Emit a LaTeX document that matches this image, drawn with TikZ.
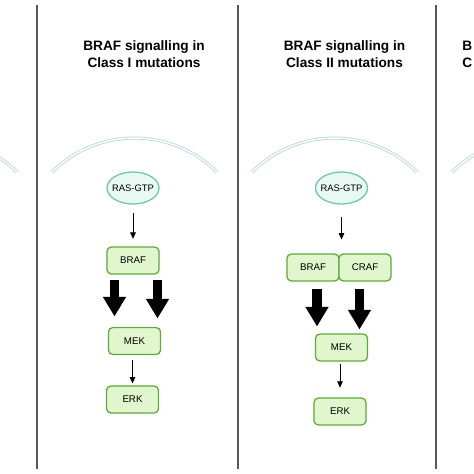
\documentclass[tikz,border=0pt]{standalone}
\usepackage{fontspec}
\setmainfont{Liberation Sans}
\usetikzlibrary{arrows.meta,shapes.geometric,calc}
\definecolor{boxgreen}{HTML}{E0F6CC}
\definecolor{edgegreen}{HTML}{5FA83E}
\definecolor{rasfill}{HTML}{E9F8F2}
\definecolor{rasedge}{HTML}{6AC8A6}
\definecolor{membranecol}{HTML}{B9D6E1}
\definecolor{dividercol}{HTML}{55595B}

\begin{document}
\begin{tikzpicture}[x=0.025cm,y=-0.025cm,
  protein/.style={draw=edgegreen,fill=boxgreen,line width=0.9pt,rounded corners=3pt,
    minimum width=1.3cm,minimum height=0.67cm,inner sep=0pt,font=\fontsize{6.9}{8}\selectfont},
  ras/.style={ellipse,draw=rasedge,fill=rasfill,line width=0.9pt,
    minimum width=1.3cm,minimum height=0.8cm,inner xsep=-2pt,inner ysep=0pt,font=\fontsize{6.7}{8}\selectfont},
  paneltitle/.style={align=center,font=\fontsize{9.7}{12}\selectfont\bfseries},
  thinarrow/.style={-{Triangle[width=4pt,length=4.5pt]},line width=0.6pt},
  bigarrow/.style={-{Triangle[width=15.5pt,length=14pt]},line width=6.5pt},
  membrane/.style={draw=membranecol,double=white,double distance=1pt,line width=0.6pt},
  divider/.style={draw=dividercol,line width=1pt}]
\useasboundingbox (0,0) rectangle (474,474);

% panel dividers and membranes
\foreach \x in {37,238,436}
  \draw[divider] (\x,5) -- (\x,469);
\foreach \cx in {-65.5,134.5,334.5,534.5}
  \draw[membrane] (\cx-82.7,172.3) arc[start angle=-135,end angle=-45,radius=117];

% class I
\node[paneltitle] (title1) at (144,54.5) {BRAF signalling in\\Class I mutations};
\node[ras] (ras1) at (133,188) {RAS-GTP};
\node[protein] (braf1) at (133,260.5) {BRAF};
\node[protein] (mek1) at (134.5,341) {MEK};
\node[protein] (erk1) at (132.5,399.5) {ERK};
\draw[thinarrow,shorten <=6pt,shorten >=5.5pt] (ras1) -- (braf1);
\draw[bigarrow] ($(braf1.south)+(-18.5,5)$) -- ++(0,37);
\draw[bigarrow] ($(braf1.south)+(24.5,5)$) -- ++(0,39);
\draw[thinarrow,shorten <=3.5pt,shorten >=1.5pt] (mek1.south -| erk1) -- (erk1);

% class II
\node[paneltitle] (title2) at (344.5,54.5) {BRAF signalling in\\Class II mutations};
\node[ras] (ras2) at (341.5,188) {RAS-GTP};
\node[protein] (braf2) at (313,267.5) {BRAF};
\node[protein] (craf2) at (365,267.5) {CRAF};
\node[protein] (mek2) at (341.5,347.5) {MEK};
\node[protein] (erk2) at (340,411.5) {ERK};
\draw[thinarrow,shorten <=8.5pt,shorten >=10pt] (ras2) -- (ras2 |- braf2.north);
\draw[bigarrow] ($(braf2.south)+(4,7)$) -- ++(0,38);
\draw[bigarrow] ($(craf2.south)+(-5.5,7)$) -- ++(0,41);
\draw[thinarrow,shorten <=1.5pt,shorten >=7pt] (mek2.south -| erk2) -- (erk2);

% next panel, cut off
\node[paneltitle,align=left,anchor=west,inner sep=0pt] (title3) at (462,54.5) {B\\C};
\end{tikzpicture}
\end{document}
